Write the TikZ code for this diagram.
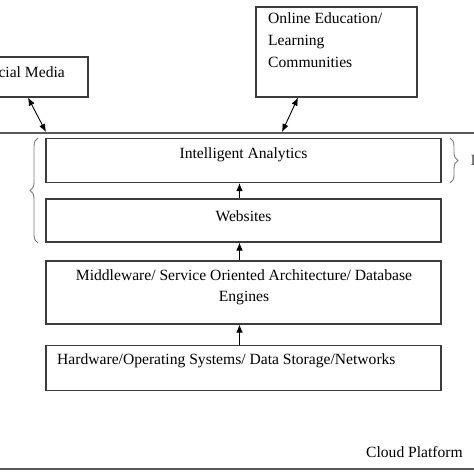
\documentclass[tikz,border=0pt]{standalone}
\usepackage{fontspec}
\setmainfont{Liberation Serif}
\usetikzlibrary{arrows.meta,decorations.pathreplacing}
\definecolor{boxline}{HTML}{3C3C3C}
\definecolor{rule}{HTML}{5A5A5A}
\definecolor{bracecol}{HTML}{7A7A7A}
\begin{document}
\begin{tikzpicture}[x=1pt,y=-1pt,
  layerbox/.style={draw=boxline,line width=1.1pt,inner sep=0pt,minimum width=395pt},
  extbox/.style={draw=boxline,line width=1.1pt,inner sep=0pt},
  txt/.style={font=\fontsize{15.6}{21}\selectfont,inner sep=0pt,text=black},
  hline/.style={draw=rule,line width=1.6pt},
  arr/.style={-{Latex[length=8pt,width=6.5pt]},line width=0.9pt,black},
  dblarr/.style={{Latex[length=8pt,width=6.5pt]}-{Latex[length=8pt,width=6.5pt]},line width=0.9pt,black},
  brc/.style={draw=bracecol,line width=0.9pt,decorate,decoration={brace,amplitude=8pt}}]
\useasboundingbox (0,0) rectangle (474,474);
\clip (0,0) rectangle (474,474);
\fill[white] (0,0) rectangle (474,474);
% external boxes
\node[extbox,minimum width=100pt,minimum height=40pt] (sm) at (38,77) {};
\node[txt,anchor=east] (smt) at (65,72) {cial Media};
\node[extbox,minimum width=161pt,minimum height=90pt] (oe) at (336.5,52) {};
\node[txt,anchor=north west,align=left,font=\fontsize{15.6}{22.3}\selectfont] (oet) at (268,12) {Online Education/\\Learning\\Communities};
% rules
\draw[hline] (0,133) -- (474,133);
\draw[hline] (0,469) -- (474,469);
\coordinate (c1) at (46,132);
\coordinate (c2) at (282,132);
% layers
\node[layerbox,minimum height=44pt] (ia) at (243.5,160.5) {};
\node[txt] (iat) at (243.5,155) {Intelligent Analytics};
\node[layerbox,minimum height=43pt] (ws) at (243.5,220.5) {};
\node[txt] (wst) at (243.5,216) {Websites};
\node[layerbox,minimum height=63pt] (mw) at (243.5,292.5) {};
\node[txt,align=center] (mwt) at (244,287) {Middleware/ Service Oriented Architecture/ Database\\Engines};
\node[layerbox,minimum height=45pt] (hw) at (243.5,368) {};
\node[txt,anchor=west] (hwt) at (57,361) {Hardware/Operating Systems/ Data Storage/Networks};
\node[txt,anchor=east] (cp) at (463,452) {Cloud Platform};
\node[txt,anchor=west,text=black!70] (it) at (470.5,160) {I};
% connectors
\draw[dblarr] ([xshift=-10pt]sm.south) -- (c1);
\draw[dblarr] ([xshift=-38.5pt]oe.south) -- (c2);
\draw[arr] ([xshift=-4pt]ws.north) -- ([xshift=-4pt]ia.south);
\draw[arr] ([xshift=-4pt]mw.north) -- ([xshift=-4pt]ws.south);
\draw[arr] ([xshift=-4pt]hw.north) -- ([xshift=-4pt]mw.south);
% braces
\draw[brc] (38,243) -- (38,138);
\draw[brc] (450,138) -- (450,183);
\end{tikzpicture}
\end{document}
